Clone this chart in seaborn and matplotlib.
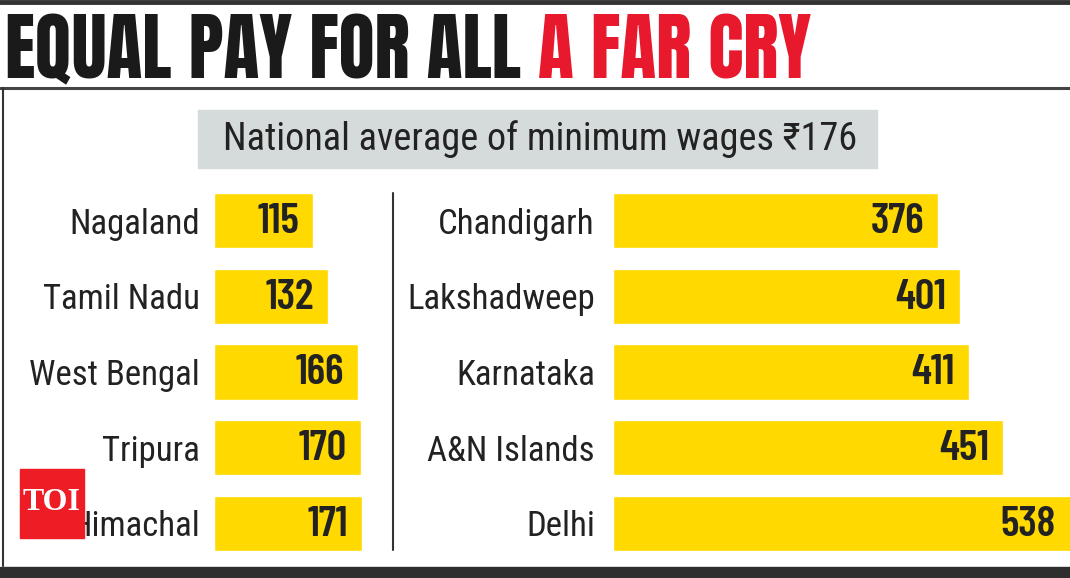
"""
Equal pay for all a far cry - minimum wages by state (TOI style bar chart).
"""
import matplotlib
matplotlib.use("Agg")
import matplotlib.pyplot as plt
import seaborn as sns
import pandas as pd
from matplotlib.patches import Rectangle
from matplotlib.lines import Line2D

W, H = 1070, 578
YELLOW = "#ffd900"
INK = "#222222"
NARROW = ["Roboto Condensed", "DejaVu Sans"]
DIGITS = ["Barlow Condensed", "Roboto Condensed", "DejaVu Sans"]
HEAVY = ["Anton", "DejaVu Sans"]

# data
low_states = ["Nagaland", "Tamil Nadu", "West Bengal", "Tripura", "Himachal"]
low_wages = [115, 132, 166, 170, 171]
high_states = ["Chandigarh", "Lakshadweep", "Karnataka", "A&N Islands", "Delhi"]
high_wages = [376, 401, 411, 451, 538]
national_avg = 176

sns.set_theme(style="white")
plt.rcParams["font.family"] = NARROW

fig = plt.figure(figsize=(W / 100, H / 100), dpi=100)
fig.patch.set_facecolor("white")


def fx(px):
    return px / W


def fy(py):
    return 1 - py / H


PX_PER_UNIT = 0.865
ax_bottom = fy(561)
ax_height = 378 / H

ax_left = fig.add_axes([fx(214), ax_bottom, 200 * PX_PER_UNIT / W, ax_height])
ax_right = fig.add_axes([fx(613), ax_bottom, 1 - fx(613), ax_height])

panels = [
    (ax_left, low_states, low_wages, 200, 10),
    (ax_right, high_states, high_wages, (W - 613) / PX_PER_UNIT, 13),
]
for ax, states, wages, xmax, pad in panels:
    df = pd.DataFrame({"state": states, "wage": wages})
    sns.barplot(data=df, x="wage", y="state", ax=ax, color=YELLOW,
                saturation=1, width=0.73, orient="h")
    ax.set_xlim(0, xmax)
    ax.set_ylim(len(states) - 0.5, -0.5)
    ax.set_xlabel("")
    ax.set_ylabel("")
    ax.set_xticks([])
    ax.tick_params(axis="y", length=0, pad=pad, labelsize=25, labelcolor=INK)
    for lab in ax.get_yticklabels():
        lab.set_family(NARROW)
    sns.despine(ax=ax, left=True, bottom=True)
    ax.patch.set_alpha(0)
    for i, v in enumerate(wages):
        ax.annotate(str(v), xy=(min(v, xmax), i), xytext=(-10, -1),
                    textcoords="offset points", ha="right", va="center",
                    fontsize=31, fontweight=600, color=INK, family=DIGITS,
                    annotation_clip=False)

# title
t1 = fig.text(fx(5), fy(78), "EQUAL PAY FOR ALL", fontsize=53,
              color="#1a1a1a", ha="left", va="baseline", family=HEAVY)
ax_left.annotate("A FAR CRY", xy=(1, 0), xycoords=t1, xytext=(12, 0),
                 textcoords="offset points", ha="left", va="bottom",
                 fontsize=53, color="#e8192c", family=HEAVY,
                 annotation_clip=False)

# frame lines
fig.add_artist(Line2D([0, 1], [fy(2), fy(2)], color="#333333", lw=3.5))
fig.add_artist(Line2D([0, 1], [fy(88), fy(88)], color="#444444", lw=2.2))
fig.add_artist(Line2D([fx(3), fx(3)], [fy(88), fy(566)], color="#333333", lw=1.5))
fig.add_artist(Line2D([fx(393), fx(393)], [fy(193), fy(550)], color="#333333", lw=1.5))
fig.add_artist(Rectangle((0, 0), 1, 11 / H, transform=fig.transFigure,
                         color="#2e2e2e", zorder=3))

# subtitle box
fig.add_artist(Rectangle((fx(198), fy(168)), fx(877) - fx(198), 58 / H,
                         transform=fig.transFigure, color="#d5dadb", zorder=1))
fig.text(fx(540), fy(139), f"National average of minimum wages \u20b9{national_avg}",
         fontsize=27.5, color=INK, ha="center", va="center", family=NARROW, zorder=2)

# TOI logo
fig.add_artist(Rectangle((fx(20), fy(538)), fx(84) - fx(20), 69 / H,
                         transform=fig.transFigure, color="#ee1c25", zorder=5))
fig.text(fx(52), fy(502), "TOI", fontsize=23, fontweight="bold", color="white",
         ha="center", va="center", family=["Liberation Serif", "DejaVu Serif"], zorder=6)

fig.savefig("out.png", dpi=100)
